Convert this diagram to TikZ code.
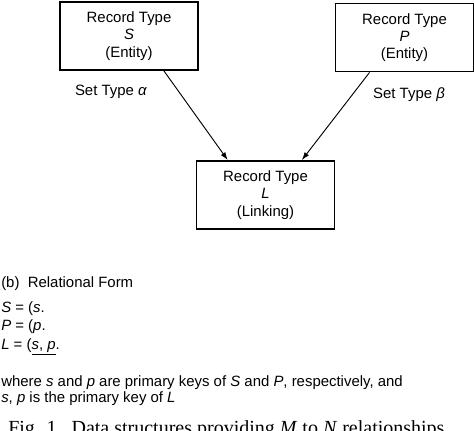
\documentclass[tikz,border=0pt]{standalone}
\usepackage{fontspec}
\setmainfont{Liberation Sans}
\newfontfamily\capfont{Liberation Serif}
\usetikzlibrary{arrows.meta,calc}
\begin{document}
\begin{tikzpicture}[x=0.75pt,y=-0.75pt,
    font=\fontsize{11.2}{13}\selectfont,
    recbox/.style={draw,line width=1.3pt,align=center,inner sep=0pt,
      minimum width=103.5pt,minimum height=51pt},
    setarrow/.style={-{Latex[length=6pt,width=4pt]},line width=0.7pt},
    textline/.style={anchor=base west,inner sep=0pt}]

  % Fix the page size to the reference
  \useasboundingbox (0,0) rectangle (474,430);

  % The three record type boxes
  \node[recbox] (S) at (129,36) {Record Type\\ \textit{S}\\ (Entity)};
  \node[recbox] (P) at (404.5,37.5) {Record Type\\ \textit{P}\\ (Entity)};
  \node[recbox] (L) at (265.5,195) {Record Type\\ \textit{L}\\ (Linking)};

  % The two set types pointing to the linking record
  \draw[setarrow] ($(S.south west)!0.75!(S.south east)$)
    -- ($(L.north west)!0.23!(L.north east)$);
  \draw[setarrow] ($(P.south west)!0.25!(P.south east)$)
    -- ($(L.north west)!0.76!(L.north east)$);

  % Labels of the set types
  \node (alpha) at (111,92) {Set Type \textit{α}};
  \node (beta) at (409,95) {Set Type \textit{β}};

  % Relational form below
  \node[textline] (title) at (1,287) {(b)\ \ Relational Form};
  \node[textline] (relS) at (1,312) {\textit{S} = (\textit{s}.};
  \node[textline] (relP) at (1,330) {\textit{P} = (\textit{p}.};
  \node[textline] (relL) at (1,349) {\textit{L} = (\underline{\textit{s}, \textit{p}}.};

  % Explanation of the keys
  \node[textline] (where) at (1,386) {where \textit{s} and \textit{p} are primary keys of \textit{S} and \textit{P}, respectively, and};
  \node[textline] (key) at (1,402) {\textit{s}, \textit{p} is the primary key of \textit{L}};

  % Caption, cut by the page edge
  \node[textline,font=\capfont\fontsize{15}{18}\selectfont] (caption) at (8,434)
    {Fig. 1.\ \ Data structures providing \textit{M} to \textit{N} relationships};

\end{tikzpicture}
\end{document}
